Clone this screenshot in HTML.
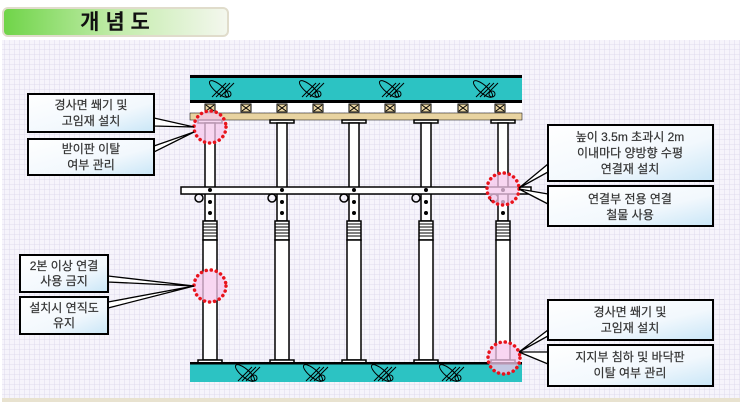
<!DOCTYPE html>
<html><head><meta charset="utf-8"><style>
html,body{margin:0;padding:0;background:#fff;}
body{width:743px;height:406px;overflow:hidden;font-family:"Liberation Sans","Noto Sans CJK KR",sans-serif;}
</style></head><body>
<svg width="743" height="406" xmlns="http://www.w3.org/2000/svg" font-family="Liberation Sans, Noto Sans CJK KR, sans-serif">
<defs>
<pattern id="g" width="5" height="5" patternUnits="userSpaceOnUse">
<rect width="5" height="5" fill="#f6f4fb"/>
<path d="M5 0V5M0 5H5" stroke="#d9d4ea" stroke-width="0.8"/>
</pattern>
<linearGradient id="tg" x1="0" x2="1"><stop offset="0" stop-color="#6fd448"/><stop offset="0.5" stop-color="#c2ecaa"/><stop offset="1" stop-color="#f4f7ee"/></linearGradient>
<linearGradient id="bg" x1="0" y1="0" x2="1" y2="1"><stop offset="0" stop-color="#ffffff"/><stop offset="0.6" stop-color="#f2f8fd"/><stop offset="1" stop-color="#c9e6f7"/></linearGradient>
<g id="clip"><path d="M0 0 l14 -14 M4 0 l14 -14 M8 0 l14 -14" stroke="#000" stroke-width="1" fill="none"/><ellipse cx="7" cy="-8" rx="12" ry="4" transform="rotate(40 7 -8)" fill="none" stroke="#000"/><circle cx="16" cy="-3" r="3" fill="none" stroke="#000"/></g>
<g id="xb"><rect width="10" height="8" fill="#e8d3a0" stroke="#000"/><path d="M1 1L9 7M9 1L1 7" stroke="#000" stroke-width="1"/></g>
</defs>
<rect x="2" y="40" width="738" height="362" fill="url(#g)"/>
<rect x="2" y="398" width="738" height="4" fill="#e8e2cf"/>
<rect x="3" y="8" width="225" height="28" rx="5" fill="url(#tg)" stroke="#e0dccb" stroke-width="2"/>
<text x="115" y="29" font-size="21" font-weight="bold" text-anchor="middle" fill="#111">개 념 도</text>

<rect x="190" y="77" width="332" height="23" fill="#2cc3c3"/>
<rect x="190" y="75" width="332" height="3" fill="#000"/>
<rect x="190" y="100" width="332" height="3" fill="#000"/>
<rect x="190" y="103" width="332" height="9" fill="#fff"/>
<g>
<use href="#clip" x="212" y="97"/><use href="#clip" x="302" y="97"/><use href="#clip" x="382" y="97"/><use href="#clip" x="476" y="97"/>
</g>
<use href="#xb" x="205" y="104"/><use href="#xb" x="241" y="104"/><use href="#xb" x="277" y="104"/><use href="#xb" x="313" y="104"/><use href="#xb" x="349" y="104"/><use href="#xb" x="385" y="104"/><use href="#xb" x="421" y="104"/><use href="#xb" x="458" y="104"/><use href="#xb" x="495" y="104"/>
<rect x="190" y="113" width="332" height="7" fill="#e8d3a0" stroke="#000" stroke-width="0.5"/>

<g stroke="#000" stroke-width="1.5" fill="#fff">
<g id="post">
<rect x="198" y="120" width="24" height="3"/>
<rect x="205" y="123" width="10" height="98"/>
<rect x="203" y="221" width="14" height="19"/>
<path d="M203 224H217M203 227H217M203 230H217M203 233H217M203 236H217" stroke-width="1"/>
<rect x="203" y="240" width="14" height="120"/>
<rect x="198" y="360" width="24" height="4"/>
<circle cx="210" cy="190" r="2" fill="#000" stroke="none"/>
<circle cx="210" cy="202" r="2" fill="#000" stroke="none"/>
<circle cx="210" cy="213" r="2" fill="#000" stroke="none"/>
</g>
<use href="#post" x="72"/><use href="#post" x="144"/><use href="#post" x="216"/><use href="#post" x="293"/>
</g>
<rect x="181" y="187" width="350" height="7" fill="#fff" stroke="#000" stroke-width="1.5"/>
<g fill="none" stroke="#000" stroke-width="1.5">
<circle cx="199" cy="198" r="4"/><circle cx="272" cy="198" r="4"/><circle cx="344" cy="198" r="4"/><circle cx="416" cy="198" r="4"/><circle cx="494" cy="198" r="4"/>
</g>
<g fill="#000"><circle cx="210" cy="190" r="2"/><circle cx="282" cy="190" r="2"/><circle cx="354" cy="190" r="2"/><circle cx="426" cy="190" r="2"/><circle cx="503" cy="190" r="2"/></g>

<rect x="190" y="364" width="332" height="18" fill="#2cc3c3"/>
<rect x="190" y="362" width="332" height="2.5" fill="#000"/>
<use href="#clip" x="238" y="381"/><use href="#clip" x="306" y="381"/><use href="#clip" x="374" y="381"/><use href="#clip" x="442" y="381"/>

<g fill="#f5c8ec" fill-opacity="0.75" stroke="#e8141c" stroke-width="3.5" stroke-dasharray="0.1 5" stroke-linecap="round">
<circle cx="210" cy="127" r="16"/>
<circle cx="503" cy="189" r="16"/>
<circle cx="210" cy="286" r="16"/>
<circle cx="504" cy="358" r="16"/>
</g>

<g fill="#fff" stroke="#000" stroke-width="1.3">
<path d="M154 118 L194 127 L154 126Z"/><path d="M154 146 L194 132 L154 152Z"/>
<path d="M108 276 L194 286 L108 282Z"/><path d="M108 302 L194 286 L108 308Z"/>
<path d="M548 164 L519 188 L548 172Z"/><path d="M548 194 L519 189 L548 204Z"/>
<path d="M548 330 L519 352 L548 336Z"/><path d="M548 352 L519 352 L548 364Z"/>
</g>
<g fill="url(#bg)" stroke="#000" stroke-width="2">
<rect x="28" y="94" width="126" height="38"/>
<rect x="28" y="139" width="126" height="36"/>
<rect x="20" y="255" width="88" height="37"/>
<rect x="20" y="297" width="88" height="37"/>
<rect x="548" y="125" width="165" height="56"/>
<rect x="548" y="186" width="165" height="40"/>
<rect x="548" y="300" width="165" height="40"/>
<rect x="548" y="345" width="165" height="41"/>
</g>
<g font-size="12" text-anchor="middle" fill="#333" stroke="#333" stroke-width="0.2">
<text x="91" y="109">경사면 쐐기 및</text><text x="91" y="125">고임재 설치</text>
<text x="91" y="153">받이판 이탈</text><text x="91" y="169">여부 관리</text>
<text x="64" y="270">2본 이상 연결</text><text x="64" y="285">사용 금지</text>
<text x="64" y="312">설치시 연직도</text><text x="64" y="327">유지</text>
<text x="630" y="141">높이 3.5m 초과시 2m</text><text x="630" y="157">이내마다 양방향 수평</text><text x="630" y="173">연결재 설치</text>
<text x="630" y="203">연결부 전용 연결</text><text x="630" y="219">철물 사용</text>
<text x="630" y="316">경사면 쐐기 및</text><text x="630" y="332">고임재 설치</text>
<text x="630" y="361">지지부 침하 및 바닥판</text><text x="630" y="377">이탈 여부 관리</text>
</g>
</svg>
</body></html>
